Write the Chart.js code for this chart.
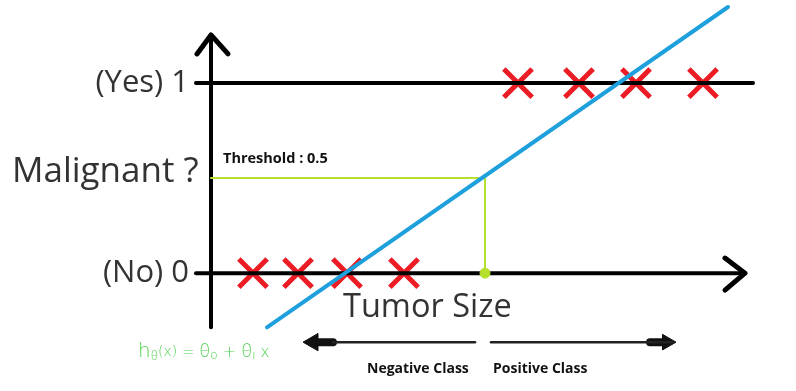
<!DOCTYPE html>
<html>
<head>
<meta charset="utf-8">
<script src="https://cdn.jsdelivr.net/npm/chart.js@4.4.1/dist/chart.umd.min.js"></script>
<style>
    html, body { margin: 0; padding: 0; background: #fff; }
    #wrap { width: 796px; height: 391px; position: relative; }
</style>
</head>
<body>
<div id="wrap"><canvas id="logisticChart"></canvas></div>
<script>
// Tumor size of the samples, by class
const negativeX = [0.84, 1.74, 2.72, 3.86];   // (No) 0
const positiveX = [6.14, 7.36, 8.5, 9.84];    // (Yes) 1

// Linear hypothesis h(x) = t0 + t1 x, its two ends
const hypothesisX = [1.12, 10.34];
const hypothesisY = [-0.285, 1.4];

// Threshold and where the line crosses it
const threshold = 0.5;
const thresholdX = 5.48;

// Axis extents
const yAxisY = [-0.284, 1.253];
const xAxisX = [-0.3, 10.68];
const yesLineX = [-0.3, 10.84];

// Class arrows under the axis
const classArrowY = -0.363;
const negArrowX = [2.44, 5.28];
const posArrowX = [5.6, 9.24];

const yTickValues = [0, 1];
const yTickLabels = ['(No) 0', '(Yes) 1'];
const yTitle = 'Malignant ?';
const xTitle = 'Tumor Size';
const thresholdLabel = 'Threshold : 0.5';
const classLabels = ['Negative Class', 'Positive Class'];

const pts = (xs, ys) => xs.map((x, i) => ({ x: x, y: Array.isArray(ys) ? ys[i] : ys }));

const line = (data, color, width, order) => ({
    type: 'line', data: data, borderColor: color, borderWidth: width,
    pointRadius: 0, fill: false, tension: 0, order: order, clip: false,
    borderCapStyle: 'round', borderJoinStyle: 'round'
});

// Text drawn from the scales
const annotations = {
    id: 'annotations',
    afterDatasetsDraw(chart) {
        const { ctx, scales: { x, y } } = chart;
        ctx.save();
        ctx.textBaseline = 'alphabetic';
        ctx.textAlign = 'left';

        ctx.fillStyle = '#333';
        ctx.font = '35px "Open Sans"';
        ctx.fillText(yTitle, x.getPixelForValue(-3.98), y.getPixelForValue(0.479));

        ctx.font = '32.5px "Open Sans"';
        ctx.fillText(xTitle, x.getPixelForValue(2.64), y.getPixelForValue(-0.232));

        ctx.fillStyle = '#111';
        ctx.font = 'bold 14.5px "Open Sans"';
        ctx.fillText(thresholdLabel, x.getPixelForValue(0.24), y.getPixelForValue(0.579));

        ctx.font = 'bold 14px "Open Sans"';
        ctx.fillText(classLabels[0], x.getPixelForValue(3.12), y.getPixelForValue(-0.526));
        ctx.fillText(classLabels[1], x.getPixelForValue(5.64), y.getPixelForValue(-0.526));

        // hand-written formula h_theta(x) = theta0 + theta1 x
        const parts = [
            ['h', 20, 0], ['\u03b8', 12, 3], ['(x)', 14, -1], [' = ', 15, 0],
            ['\u03b8', 18, 0], ['o', 12, 2], [' + ', 16, 0], ['\u03b8', 18, 0], ['\u0131', 12, 2], [' x', 15, 0]
        ];
        let px = x.getPixelForValue(-1.46);
        const py = y.getPixelForValue(-0.442);
        ctx.fillStyle = '#4fd14f';
        parts.forEach(([t, size, dy]) => {
            ctx.font = '300 ' + size + 'px "DejaVu Sans"';
            ctx.fillText(t, px, py + dy);
            px += ctx.measureText(t).width;
        });
        ctx.restore();
    }
};

const ctx = document.getElementById('logisticChart').getContext('2d');
new Chart(ctx, {
    type: 'scatter',
    data: {
        datasets: [
            // hypothesis line, on top
            line(pts(hypothesisX, hypothesisY), '#1ea0dc', 4, 0),
            {
                type: 'scatter', data: [{ x: thresholdX, y: 0 }], order: 1, clip: false,
                pointRadius: 5, pointBackgroundColor: '#b5e02e', pointBorderColor: '#b5e02e', borderWidth: 1
            },
            line(pts([0, thresholdX, thresholdX], [threshold, threshold, 0]), '#b5e02e', 2, 2),
            // axes and the y = 1 line
            line(pts([0, 0], yAxisY), '#000', 4, 3),
            line(pts(xAxisX, 0), '#000', 4, 3),
            line(pts(yesLineX, 1), '#000', 4, 3),
            line(pts([-0.28, 0, 0.34], [1.153, yAxisY[1], 1.153]), '#000', 5, 3),
            line(pts([10.28, xAxisX[1], 10.28], [0.079, 0, -0.089]), '#000', 5, 3),
            // samples
            {
                type: 'scatter', order: 4, clip: false,
                data: pts(negativeX, 0).concat(pts(positiveX, 1)),
                pointStyle: 'crossRot', pointRadius: 20, borderWidth: 5,
                pointBorderColor: '#ec1c24'
            },
            // class arrows
            line(pts(negArrowX, classArrowY), '#222', 2.5, 3),
            line(pts([2.16, 2.44], classArrowY), '#111', 8, 3),
            {
                type: 'scatter', order: 3, clip: false, data: [{ x: 2.04, y: classArrowY }],
                pointStyle: 'triangle', rotation: -90, pointRadius: 10,
                pointBackgroundColor: '#111', pointBorderColor: '#111', borderWidth: 1
            },
            line(pts(posArrowX, classArrowY), '#222', 2.5, 3),
            line(pts([8.78, 9.02], classArrowY), '#111', 8, 3),
            {
                type: 'scatter', order: 3, clip: false, data: [{ x: 9.12, y: classArrowY }],
                pointStyle: 'triangle', rotation: 90, pointRadius: 9,
                pointBackgroundColor: '#111', pointBorderColor: '#111', borderWidth: 1
            }
        ]
    },
    options: {
        responsive: true,
        maintainAspectRatio: false,
        animation: false,
        events: [],
        layout: { autoPadding: false, padding: { left: 0, right: 35, top: 7, bottom: 0 } },
        plugins: { legend: { display: false }, tooltip: { enabled: false } },
        scales: {
            x: { type: 'linear', min: 0, max: 11, display: false },
            y: {
                type: 'linear', min: -0.62, max: 1.4,
                afterBuildTicks: s => { s.ticks = yTickValues.map(v => ({ value: v })); },
                afterFit: s => { s.width = 211; s.paddingTop = 0; s.paddingBottom = 0; },
                grid: { display: false, drawTicks: false },
                border: { display: false },
                ticks: {
                    padding: 22,
                    color: '#333',
                    font: { family: '"Open Sans"', size: 31 },
                    callback: v => yTickLabels[yTickValues.indexOf(v)]
                }
            }
        }
    },
    plugins: [annotations]
});
</script>
</body>
</html>
